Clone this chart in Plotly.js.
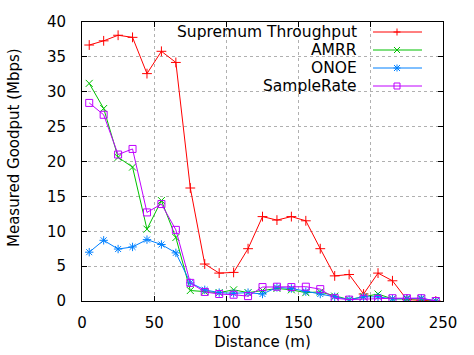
<!DOCTYPE html>
<html>
<head>
<meta charset="utf-8">
<script src="https://cdn.plot.ly/plotly-3.0.1.min.js"></script>
<style>html,body{margin:0;padding:0;background:#fff;}#chart{width:474px;height:355px;}</style>
</head>
<body>
<div id="chart"></div>
<script>
const distance = [5,15,25,35,45,55,65,75,85,95,105,115,125,135,145,155,165,175,185,195,205,215,225,235,245];
const supremum = [36.7,37.3,38.1,37.8,32.6,35.8,34.2,16.2,5.3,4.0,4.1,7.5,12.1,11.6,12.1,11.5,7.5,3.6,3.8,1.0,4.0,2.9,0.2,0.1,0];
const amrr = [31.2,27.6,20.6,19.2,10.3,14.4,9.1,1.5,1.35,1.2,1.6,1.2,1.5,1.8,1.6,1.2,1.3,0.7,0.2,0.6,1.0,0.3,0.3,0.3,0];
const onoe = [7.0,8.7,7.45,7.75,8.8,8.1,6.9,2.6,1.6,1.2,1.1,1.2,1.0,1.95,1.8,1.35,1.0,0.6,0.2,0.6,0.6,0.3,0.4,0.4,0];
const sampleRate = [28.4,26.7,21.0,21.8,12.7,13.9,10.2,2.6,1.3,1.0,0.9,0.7,2.0,2.05,2.0,2.05,1.7,0.4,0.2,0.3,0.3,0.4,0.4,0.4,0];
const seriesNames = ["Supremum Throughput","AMRR","ONOE","SampleRate"];
const seriesColors = ["#ff0000","#00c000","#0080ff","#c000ff"];
const seriesSymbols = ["cross-thin-open","x-thin-open","asterisk-open","square-open"];
const seriesData = [supremum, amrr, onoe, sampleRate];

const FONT = "DejaVu Sans, Verdana, sans-serif";
const traces = seriesData.map((vals, i) => ({
  x: distance, y: vals, name: seriesNames[i], type: "scatter", mode: "lines+markers",
  line: {color: seriesColors[i], width: 1},
  marker: {symbol: seriesSymbols[i], size: 7, color: seriesColors[i], line: {color: seriesColors[i], width: 1}},
  showlegend: false
}));

// Custom gnuplot-style key (text right-aligned, sample to the right)
const W = 361, H = 279, L = 82, T = 22;
const px = v => (v - L) / W;
const py = v => (T + H - v) / H;
const rowY = [32, 50, 68, 86];
const shapes = [{type: "rect", xref: "paper", yref: "paper", x0: px(152), x1: px(431), y0: py(95), y1: 1,
  fillcolor: "#ffffff", line: {width: 0}, layer: "between"}];
const annotations = [];
const mx = px(397);
seriesNames.forEach((nm, i) => {
  const y = py(rowY[i]);
  annotations.push({xref: "paper", yref: "paper", x: px(359), y: y, xanchor: "right", yanchor: "middle",
    text: nm, showarrow: false, font: {family: FONT, size: 15.5, color: "#000"}});
  shapes.push({type: "line", xref: "paper", yref: "paper", x0: px(373), x1: px(422), y0: y, y1: y,
    line: {color: seriesColors[i], width: 1}});
  const c = seriesColors[i];
  const seg = (x0, y0, x1, y1) => ({type: "line", xref: "paper", yref: "paper", xsizemode: "pixel", ysizemode: "pixel",
    xanchor: mx, yanchor: y, x0: x0, x1: x1, y0: y0, y1: y1, line: {color: c, width: 1}});
  if (i === 0) { shapes.push(seg(-3.5, 0, 3.5, 0), seg(0, -3.5, 0, 3.5)); }
  if (i === 1) { shapes.push(seg(-3, -3, 3, 3), seg(-3, 3, 3, -3)); }
  if (i === 2) { shapes.push(seg(-3.5, 0, 3.5, 0), seg(0, -3.5, 0, 3.5), seg(-3, -3, 3, 3), seg(-3, 3, 3, -3)); }
  if (i === 3) { shapes.push({type: "rect", xref: "paper", yref: "paper", xsizemode: "pixel", ysizemode: "pixel",
    xanchor: mx, yanchor: y, x0: -3, x1: 3, y0: -3, y1: 3, line: {color: c, width: 1}}); }
});
annotations.push({xref: "paper", yref: "paper", x: px(14), y: py(148), xanchor: "center", yanchor: "middle",
  textangle: -90, text: "Measured Goodput (Mbps)", showarrow: false, font: {family: FONT, size: 15, color: "#000"}});

const axisCommon = {
  showline: true, linecolor: "#000", linewidth: 1, mirror: "ticks",
  ticks: "inside", ticklen: 5, tickcolor: "#000", tickwidth: 1,
  showgrid: true, gridcolor: "#b0b0b0", griddash: "dot", gridwidth: 1,
  zeroline: false, tickfont: {family: FONT, size: 15, color: "#000"}
};
const layout = {
  width: 474, height: 355,
  margin: {l: L, r: 474 - L - W, t: T, b: 355 - T - H},
  paper_bgcolor: "#fff", plot_bgcolor: "#fff",
  font: {family: FONT, color: "#000"},
  showlegend: false,
  xaxis: Object.assign({}, axisCommon, {range: [0, 250], tickvals: [0,50,100,150,200,250], ticklabelstandoff: 8,
    title: {text: "Distance (m)", font: {family: FONT, size: 15, color: "#000"}, standoff: 5}}),
  yaxis: Object.assign({}, axisCommon, {range: [0, 40], tickvals: [0,5,10,15,20,25,30,35,40], ticklabelstandoff: 12}),
  shapes: shapes, annotations: annotations
};
Plotly.newPlot("chart", traces, layout, {displayModeBar: false, staticPlot: true});
</script>
</body>
</html>
